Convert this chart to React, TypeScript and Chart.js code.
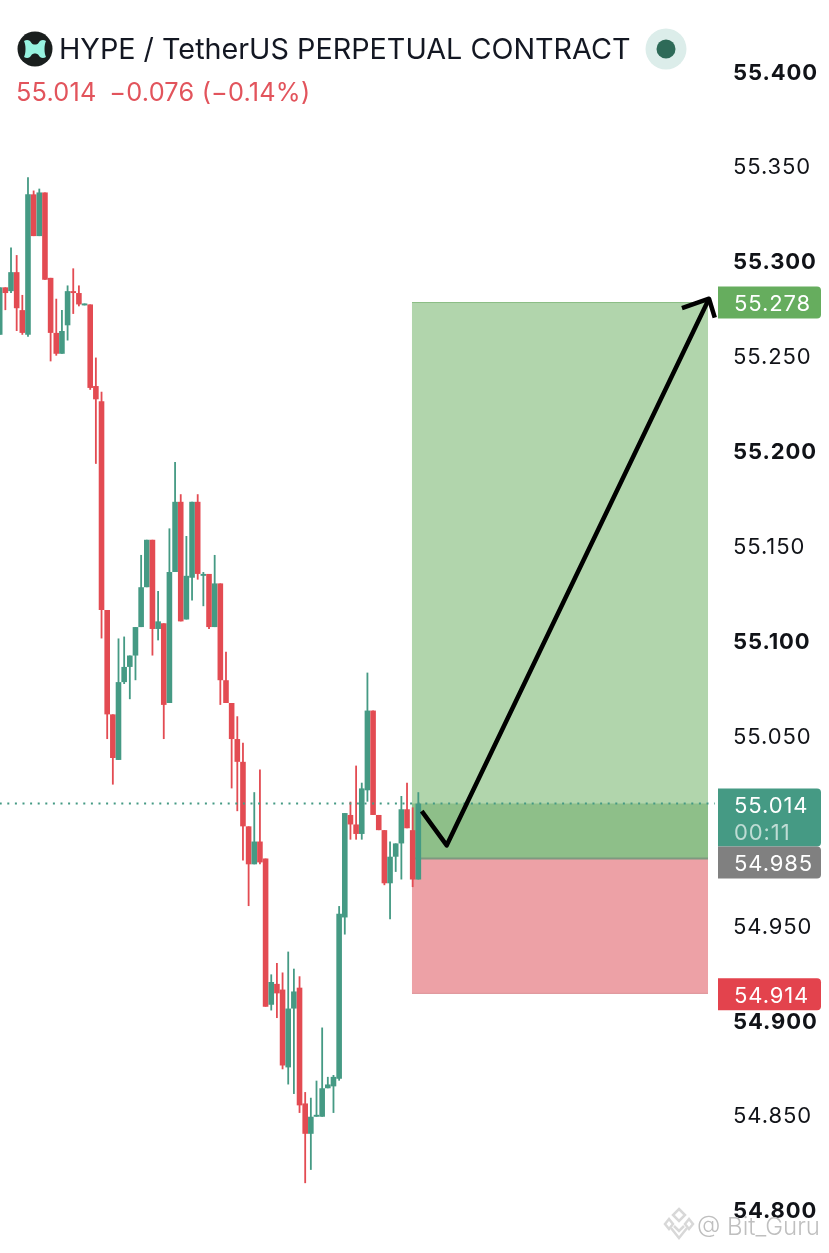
import React, { useEffect, useRef } from "react";
import { Chart, registerables } from "chart.js";

Chart.register(...registerables);

const FONT = "Inter, 'Noto Sans', sans-serif";
const GREEN = "#459A84";
const RED = "#E34B52";

const opens = [55.261,55.286,55.284,55.294,55.274,55.261,55.335,55.313,55.336,55.291,55.262,55.251,55.266,55.284,55.283,55.2765,55.277,55.234,55.226,55.116,55.061,55.037,55.078,55.086,55.092,55.107,55.128,55.153,55.106,55.109,55.067,55.136,55.173,55.111,55.133,55.173,55.134,55.135,55.107,55.130,55.079,55.067,55.048,55.036,55.002,54.982,54.994,54.985,54.908,54.919,54.916,54.875,54.906,54.917,54.856,54.840,54.849,54.849,54.864,54.865,54.869,54.954,55.008,55.003,54.998,55.021,55.063,55.008,55.000,54.972,54.986,54.993,55.011,55.000,54.974];
const closes = [55.286,55.283,55.294,55.275,55.262,55.335,55.313,55.336,55.290,55.262,55.251,55.263,55.284,55.283,55.277,55.2775,55.233,55.227,55.116,55.061,55.038,55.078,55.086,55.092,55.107,55.128,55.153,55.106,55.110,55.066,55.136,55.173,55.110,55.134,55.173,55.135,55.135,55.107,55.130,55.079,55.067,55.048,55.036,55.002,54.982,54.994,54.983,54.907,54.920,54.914,54.876,54.906,54.915,54.855,54.840,54.849,54.850,54.864,54.866,54.870,54.956,55.009,55.003,54.998,55.022,55.063,55.008,55.000,54.972,54.986,54.993,55.011,55.001,54.974,55.014];
const highs = [55.286,55.286,55.307,55.303,55.282,55.344,55.337,55.338,55.336,55.291,55.280,55.274,55.287,55.296,55.287,55.2775,55.277,55.249,55.231,55.116,55.061,55.101,55.102,55.092,55.107,55.145,55.153,55.153,55.126,55.109,55.159,55.194,55.177,55.155,55.173,55.177,55.136,55.135,55.145,55.130,55.094,55.067,55.060,55.046,55.002,55.020,55.032,54.985,54.924,54.930,54.925,54.936,54.927,54.923,54.862,54.859,54.868,54.896,54.870,54.871,54.960,55.009,55.015,55.034,55.025,55.083,55.063,55.008,55.000,54.994,54.993,55.018,55.025,55.012,55.020];
const lows = [55.261,55.274,55.283,55.263,55.261,55.260,55.313,55.313,55.290,55.247,55.250,55.251,55.258,55.272,55.276,55.2765,55.232,55.193,55.101,55.048,55.024,55.037,55.077,55.069,55.079,55.107,55.128,55.092,55.100,55.048,55.067,55.136,55.110,55.111,55.121,55.132,55.118,55.106,55.107,55.066,55.067,55.022,55.010,54.984,54.960,54.982,54.982,54.907,54.905,54.901,54.874,54.866,54.861,54.851,54.814,54.821,54.849,54.849,54.864,54.851,54.868,54.945,54.995,54.995,54.995,55.015,55.008,55.000,54.971,54.953,54.978,54.974,55.001,54.970,54.974];

const tickValues = [54.8,54.85,54.9,54.95,55.0,55.05,55.1,55.15,55.2,55.25,55.3,55.35,55.4];

const lastPrice = 55.014;
const targetPrice = 55.278;
const entryPrice = 54.985;
const stopPrice = 54.914;
const countdown = "00:11";

const zoneStart = 72.88;
const zoneEnd = 125.2;
const zoneCentre = 99.04;

const arrowShaftX = [74.6, 79.02, 125.38];
const arrowShaftY = [55.010, 54.992, 55.280];
const arrowHeadX = [120.6, 125.38, 126.4];
const arrowHeadY = [55.275, 55.280, 55.270];

const priceTags = [
  { value: targetPrice, text: "55.278", bg: "#66AD5E", top: -16, h: 32 },
  { value: lastPrice, text: "55.014", sub: countdown, bg: "#459A84", top: -15, h: 58 },
  { value: entryPrice, text: "54.985", bg: "#808080", top: -12, h: 32 },
  { value: stopPrice, text: "54.914", bg: "#E3434D", top: -15, h: 32 },
];

const tagPlugin = {
  id: "priceTags",
  beforeDraw(chart: any) {
    chart.ctx.letterSpacing = "0.9px";
  },
  afterDraw(chart: any) {
    const { ctx, scales } = chart;
    ctx.save();
    for (const t of priceTags) {
      const y = scales.y.getPixelForValue(t.value) + t.top;
      ctx.fillStyle = t.bg;
      ctx.beginPath();
      ctx.roundRect(718, y, 103, t.h, [0, 4, 4, 0]);
      ctx.fill();
      ctx.font = `400 22px ${FONT}`;
      ctx.textBaseline = "middle";
      ctx.textAlign = "left";
      ctx.fillStyle = "#ffffff";
      ctx.fillText(t.text, 734, y + 18);
      if (t.sub) {
        ctx.fillStyle = "rgba(255,255,255,0.65)";
        ctx.fillText(t.sub, 734, y + 45);
      }
    }
    ctx.restore();
  },
};

export default function App() {
  const ref = useRef<HTMLCanvasElement>(null);

  useEffect(() => {
    document.body.style.margin = "0";
    const idx = opens.map((_, i) => i);
    const colors = opens.map((o, i) => (closes[i] >= o ? GREEN : RED));
    const chart = new Chart(ref.current!, {
      type: "bar",
      data: {
        datasets: [
          {
            type: "line",
            data: arrowShaftX.map((x, i) => ({ x, y: arrowShaftY[i] })),
            borderColor: "#000",
            borderWidth: 4.5,
            borderJoinStyle: "round",
            pointRadius: 0,
            tension: 0,
            order: 0,
            clip: false,
          },
          {
            type: "line",
            data: arrowHeadX.map((x, i) => ({ x, y: arrowHeadY[i] })),
            borderColor: "#000",
            borderWidth: 4.5,
            borderJoinStyle: "round",
            pointRadius: 0,
            tension: 0,
            order: 0,
            clip: false,
          },
          {
            type: "line",
            data: [{ x: 0, y: lastPrice }, { x: 126.4, y: lastPrice }],
            borderColor: GREEN,
            borderWidth: 2,
            borderDash: [2, 5.6],
            pointRadius: 0,
            order: 1,
          },
          {
            data: idx.map((i) => ({ x: i, y: [opens[i], closes[i]] })),
            backgroundColor: colors,
            grouped: false,
            barPercentage: 0.99,
            categoryPercentage: 1,
            minBarLength: 1.5,
            order: 2,
          },
          {
            data: idx.map((i) => ({ x: i, y: [lows[i], highs[i]] })),
            backgroundColor: colors,
            grouped: false,
            barPercentage: 0.32,
            categoryPercentage: 1,
            order: 3,
          },
          {
            type: "line",
            data: [{ x: zoneStart, y: targetPrice }, { x: zoneEnd, y: targetPrice }],
            borderColor: "#8CBD86",
            borderWidth: 1,
            pointRadius: 0,
            order: 4,
          },
          {
            type: "line",
            data: [{ x: zoneStart, y: entryPrice }, { x: zoneEnd, y: entryPrice }],
            borderColor: "#7E9A80",
            borderWidth: 2,
            pointRadius: 0,
            order: 4,
          },
          {
            type: "line",
            data: [{ x: zoneStart, y: stopPrice }, { x: zoneEnd, y: stopPrice }],
            borderColor: "#DD8F95",
            borderWidth: 1,
            pointRadius: 0,
            order: 4,
          },
          {
            data: [{ x: zoneCentre, y: [entryPrice, lastPrice] }],
            backgroundColor: "rgba(76,150,70,0.34)",
            grouped: false,
            barPercentage: 52.33,
            categoryPercentage: 1,
            order: 5,
          },
          {
            data: [{ x: zoneCentre, y: [entryPrice, targetPrice] }],
            backgroundColor: "#B1D5AC",
            grouped: false,
            barPercentage: 52.33,
            categoryPercentage: 1,
            order: 6,
          },
          {
            data: [{ x: zoneCentre, y: [stopPrice, entryPrice] }],
            backgroundColor: "#EDA1A6",
            grouped: false,
            barPercentage: 52.33,
            categoryPercentage: 1,
            order: 6,
          },
        ] as any,
      },
      options: {
        responsive: false,
        animation: false,
        devicePixelRatio: 1,
        layout: { padding: 0 },
        plugins: { legend: { display: false }, tooltip: { enabled: false }, title: { display: false } },
        scales: {
          x: { type: "linear", display: false, offset: false, min: 0.053, max: 126.97 },
          y: {
            position: "right",
            min: 54.7772,
            max: 55.4374,
            grid: { display: false, drawTicks: false },
            border: { display: false },
            afterBuildTicks: (s: any) => {
              s.ticks = tickValues.map((value) => ({ value }));
            },
            afterFit: (s: any) => {
              s.width = 111;
              s.paddingTop = 0;
              s.paddingBottom = 0;
            },
            ticks: {
              padding: 15,
              labelOffset: 2,
              autoSkip: false,
              color: "#111318",
              callback: (v: any) => Number(v).toFixed(3),
              font: (c: any) => ({
                family: FONT,
                size: 22,
                weight: c.tick && Math.round(c.tick.value * 1000) % 100 === 0 ? "700" : "400",
              }),
            } as any,
          },
        },
      } as any,
      plugins: [tagPlugin],
    });
    return () => chart.destroy();
  }, []);

  return (
    <div style={{ position: "relative", width: 829, height: 1253, overflow: "hidden", background: "#fff", fontFamily: FONT }}>
      <canvas ref={ref} width={829} height={1253} style={{ display: "block" }} />
      <svg width="36" height="36" viewBox="0 0 36 36" style={{ position: "absolute", left: 17, top: 31 }}>
        <circle cx="18" cy="18" r="17.5" fill="#1A1F1E" />
        <path d="M7 10C10 8 13 9 14.500 12C16 14 20 14 21.500 12C23 9 26 8 29 10C27 14 27 22 29 26C26 28 23 27 21.500 24C20 22 16 22 14.500 24C13 27 10 28 7 26C9 22 9 14 7 10Z" fill="#97F3E0" />
      </svg>
      <div style={{ position: "absolute", left: 59, top: 31, fontSize: 28.75, lineHeight: "36px", color: "#131722", whiteSpace: "nowrap" }}>
        HYPE / TetherUS PERPETUAL CONTRACT
      </div>
      <svg width="42" height="42" viewBox="0 0 42 42" style={{ position: "absolute", left: 645, top: 28 }}>
        <circle cx="21" cy="21" r="20.5" fill="#DCEDEA" />
        <circle cx="21" cy="21" r="9.5" fill="#2E6A58" />
      </svg>
      <div style={{ position: "absolute", left: 16, top: 78, fontSize: 25.3, letterSpacing: 0.2, lineHeight: "28px", color: "#E2545C", whiteSpace: "pre" }}>
        {"55.014\u2002\u22120.076 (\u22120.14%)"}
      </div>
      <svg width="32" height="36" viewBox="0 0 32 36" style={{ position: "absolute", left: 663, top: 1206 }}>
        <g fill="none" stroke="#D8D8D8" strokeWidth="2.500">
          <path d="M16 3l6 6-6 6-6-6z" />
          <path d="M6 13l-4 5 4 5 4-5z" />
          <path d="M26 13l-4 5 4 5 4-5z" />
          <path d="M8 22l8 10 8-10" />
          <path d="M11 20l5 5 5-5" />
        </g>
      </svg>
      <div style={{ position: "absolute", left: 697, top: 1212, fontSize: 24, lineHeight: "30px", fontWeight: 300, color: "#BFBFBF", whiteSpace: "pre" }}>
        @ Bit_Guru
      </div>
    </div>
  );
}
